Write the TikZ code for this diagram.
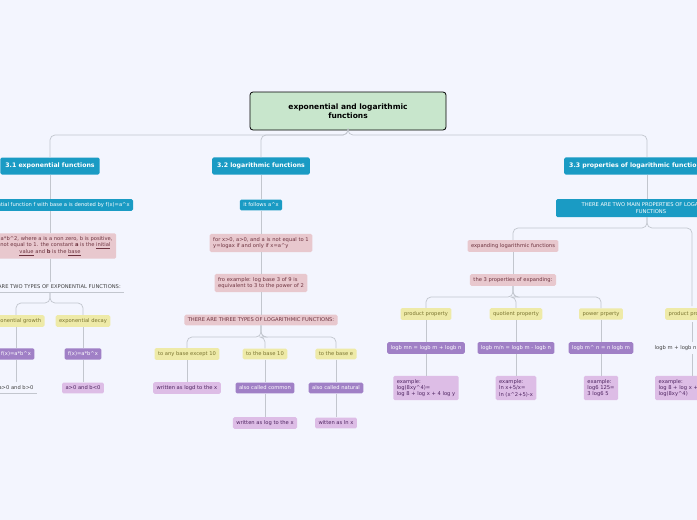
\documentclass[tikz,border=0pt]{standalone}
\usepackage{fontspec}
\setmainfont{DejaVu Sans}
\usetikzlibrary{calc}
\definecolor{bg}{HTML}{F3F5FE}
\definecolor{teal}{HTML}{1A9BC4}
\definecolor{pinkf}{HTML}{E8C8CE}
\definecolor{pinkt}{HTML}{6E3440}
\definecolor{yelf}{HTML}{EEEAA8}
\definecolor{yelt}{HTML}{7A7430}
\definecolor{dpur}{HTML}{A080C6}
\definecolor{lpur}{HTML}{DDBDE6}
\definecolor{lpurt}{HTML}{4E2460}
\definecolor{edgec}{HTML}{C2C6CE}
\definecolor{rootf}{HTML}{C8E6CC}
\tikzset{
 base/.style={rounded corners=1.5pt,inner xsep=3.5pt,inner ysep=3.3pt,font=\fontsize{5.2}{6.4}\selectfont,align=center},
 tealb/.style={base,fill=teal,text=white},
 l1/.style={base,fill=teal,text=white,font=\bfseries\fontsize{6.2}{7.5}\selectfont,inner xsep=5pt,inner ysep=5.5pt},
 pinkb/.style={base,fill=pinkf,text=pinkt},
 yelb/.style={base,fill=yelf,text=yelt},
 dpb/.style={base,fill=dpur,text=white},
 lpb/.style={base,fill=lpur,text=lpurt},
 plainb/.style={base,text=black!75},
 edge/.style={draw=edgec,line width=0.7pt,rounded corners=5pt},
}
\begin{document}
\begin{tikzpicture}[x=1pt,y=-1pt]
\fill[bg] (0,0) rectangle (697,520);
\useasboundingbox (0,0) rectangle (697,520);
\clip (0,0) rectangle (697,520);
\node[base,draw=black,line width=0.8pt,fill=rootf,text=black,font=\bfseries\fontsize{7.5}{9}\selectfont,minimum width=196pt,minimum height=38pt,rounded corners=3pt] (root) at (348,111) {exponential and logarithmic\\functions};
\node[l1] (b1) at (50,166) {3.1 exponential functions};
\node[l1] (b2) at (261,166) {3.2 logarithmic functions};
\node[l1,anchor=west] (b3) at (564,166) {3.3 properties of logarithmic functions};
\coordinate (j0) at (0,135);
\foreach \b in {b1,b2} \draw[edge] (root.south) |- (\b.north |- j0) -- (\b.north);
\draw[edge] (root.south) |- (647,135) -- (647,157);
% branch 1
\node[tealb] (a1) at (50,205) {an exponential function f with base a is denoted by f(x)=a\^{}x};
\node[pinkb] (a2) at (50,246) {f(x)=a*b\^{}2, where a is a non zero, b is positive,\\ b is not equal to 1. the constant \textbf{a} is the \underline{initial}\\ \underline{value} and \textbf{b} is the \underline{base}};
\node[plainb] (a3) at (50,287) {THERE ARE TWO TYPES OF EXPONENTIAL FUNCTIONS:};
\draw[edgec,line width=0.5pt] (a3.south west) -- (a3.south east);
\draw[edge] (b1.south) -- (a1.north) (a1.south) -- (a2.north) (a2.south) -- (a3.north);
\node[yelb] (g) at (16,321) {exponential growth};
\node[yelb] (d) at (83,321) {exponential decay};
\coordinate (j1) at (0,303);
\foreach \c in {g,d} \draw[edge] (a3.south) |- (\c.north |- j1) -- (\c.north);
\node[dpb] (g1) at (16,354) {f(x)=a*b\^{}x};
\node[dpb] (d1) at (83,354) {f(x)=a*b\^{}x};
\node[plainb] (g2) at (16,388) {a>0 and b>0};
\draw[edgec,line width=0.5pt] (g2.south west) -- (g2.south east);
\node[lpb] (d2) at (83,388) {a>0 and b<0};
\draw[edge] (g.south)--(g1.north) (g1.south)--(g2.north) (d.south)--(d1.north) (d1.south)--(d2.north);
% branch 2
\node[tealb] (c1) at (261,205) {it follows a\^{}x};
\node[pinkb,align=left] (c2) at (261,243) {for x>0, a>0, and a is not equal to 1\\y=logax if and only if x=a\^{}y};
\node[pinkb,align=left] (c3) at (261,283) {fro example: log base 3 of 9 is\\equivalent to 3 to the power of 2};
\node[pinkb] (c4) at (261,320) {THERE ARE THREE TYPES OF LOGARITHMIC FUNCTIONS:};
\draw[edge] (b2.south)--(c1.north) (c1.south)--(c2.north) (c2.south)--(c3.north) (c3.south)--(c4.north);
\node[yelb] (t1) at (187,354) {to any base except 10};
\node[yelb] (t2) at (265,354) {to the base 10};
\node[yelb] (t3) at (336,354) {to the base e};
\coordinate (j2) at (0,337);
\foreach \c in {t1,t2,t3} \draw[edge] (c4.south) |- (\c.north |- j2) -- (\c.north);
\node[lpb] (u1) at (187,388) {written as logd to the x};
\node[dpb] (u2) at (265,388) {also called common};
\node[dpb] (u3) at (336,388) {also called natural};
\node[lpb] (v2) at (265,423) {written as log to the x};
\node[lpb] (v3) at (336,423) {witten as ln x};
\draw[edge] (t1.south)--(u1.north) (t2.south)--(u2.north) (t3.south)--(u3.north) (u2.south)--(v2.north) (u3.south)--(v3.north);
% branch 3
\node[tealb,minimum width=190pt,minimum height=18pt] (p1) at (651,208) {THERE ARE TWO MAIN PROPERTIES OF LOGARITHMIC\\FUNCTIONS};
\draw[edge] (b3.south -| 647,0) -- (647,199);
\node[pinkb] (e1) at (513,246) {expanding logarithmic functions};
\node[pinkb] (e2) at (513,280) {the 3 properties of expanding:};
\coordinate (j3) at (0,228);
\draw[edge] (647,217) |- (e1.north |- j3) -- (e1.north);
\draw[edge] (647,217) |- (692,228) -- (692,306);
\draw[edge] (e1.south)--(e2.north);
\node[yelb] (q1) at (426,314) {product property};
\node[yelb] (q2) at (516,314) {quotient property};
\node[yelb] (q3) at (601,314) {power prperty};
\coordinate (j4) at (0,297);
\foreach \c in {q1,q2,q3} \draw[edge] (e2.south) |- (\c.north |- j4) -- (\c.north);
\node[dpb] (r1) at (426,348) {logb mn = logb m + logb n};
\node[dpb] (r2) at (516,348) {logb m/n = logb m - logb n};
\node[dpb] (r3) at (601,348) {logb m\^{} n = n logb m};
\node[lpb,align=left] (s1) at (426,388) {example:\\log(8xy\^{}4)=\\log 8 + log x + 4 log y};
\node[lpb,align=left] (s2) at (516,388) {example:\\ln x+5/x=\\ln (x\^{}2+5)-x};
\node[lpb,align=left] (s3) at (601,388) {example:\\log6 125=\\3 log6 5};
\foreach \a/\b in {q1/r1,q2/r2,q3/r3,r1/s1,r2/s2,r3/s3} \draw[edge] (\a.south)--(\b.north);
\node[yelb,anchor=west] (q4) at (665,314) {product property};
\node[plainb,anchor=west] (r4) at (651,348) {logb m + logb n = logb mn};
\node[lpb,align=left,anchor=west] (s4) at (655,388) {example:\\log 8 + log x + 4 log y=\\log(8xy\^{}4)};
\draw[edge] (692,322) -- (692,342) (692,354) -- (692,376);
\end{tikzpicture}
\end{document}
